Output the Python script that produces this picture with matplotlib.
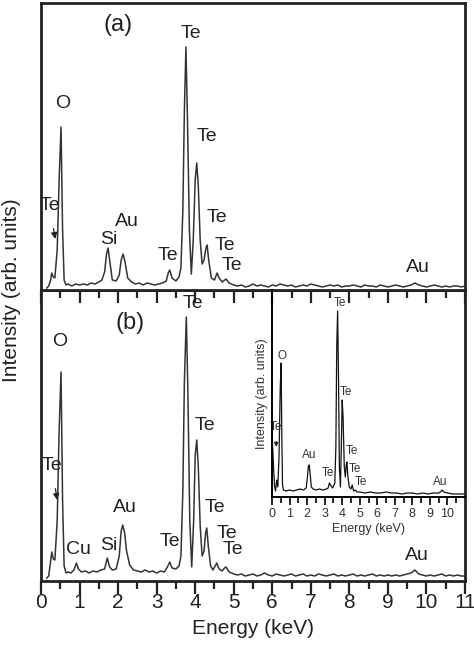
import matplotlib
matplotlib.use('Agg')
import matplotlib.pyplot as plt
import numpy as np

plt.rcParams['font.family'] = ['Liberation Sans', 'DejaVu Sans']

# ---- spectrum (a): energy (keV) / intensity (arb.) ----
E_a = [0.15, 0.2, 0.25, 0.28, 0.32, 0.36, 0.42, 0.47, 0.52, 0.56, 0.6, 0.65,
       0.7, 0.8, 0.9, 1.0, 1.1, 1.2, 1.3, 1.4, 1.5, 1.58, 1.65, 1.7, 1.74,
       1.78, 1.85, 1.95, 2.03, 2.08, 2.13, 2.18, 2.25, 2.35, 2.45, 2.55, 2.65,
       2.75, 2.85, 2.95, 3.05, 3.15, 3.25, 3.3, 3.34, 3.4, 3.5, 3.58, 3.63,
       3.68, 3.72, 3.76, 3.8, 3.85, 3.9, 3.95, 4.0, 4.04, 4.08, 4.13, 4.18,
       4.23, 4.28, 4.31, 4.35, 4.42, 4.5, 4.57, 4.62, 4.7, 4.8, 4.88, 5.0,
       5.1, 5.2, 5.3, 5.4, 5.5, 5.6, 5.7, 5.8, 5.9, 6.0, 6.1, 6.2, 6.3, 6.4,
       6.5, 6.6, 6.7, 6.8, 6.9, 7.0, 7.1, 7.2, 7.3, 7.4, 7.5, 7.6, 7.7, 7.8,
       7.9, 8.0, 8.1, 8.2, 8.3, 8.4, 8.5, 8.6, 8.7, 8.8, 8.9, 9.0, 9.1, 9.2,
       9.3, 9.4, 9.5, 9.6, 9.7, 9.8, 9.9, 10.0, 10.1, 10.2, 10.3, 10.4, 10.5,
       10.6, 10.7, 10.8, 10.9, 11.0]
I_a = [2, 4, 10, 17, 13, 12, 40, 110, 163, 60, 10, 5,
       6, 4, 6, 5, 6, 5, 7, 6, 8, 10, 18, 36, 42,
       30, 10, 9, 15, 30, 36, 28, 12, 8, 6, 7, 5,
       7, 6, 5, 6, 7, 9, 17, 20, 12, 9, 13, 22,
       80, 180, 243, 170, 60, 16, 50, 110, 127, 105, 50, 26,
       30, 42, 45, 30, 12, 10, 17, 12, 8, 11, 7, 5,
       4, 5, 3, 4, 6, 4, 5, 4, 3, 5, 4, 6, 5, 4,
       5, 3, 4, 5, 4, 6, 5, 4, 3, 4, 5, 4, 5, 3,
       4, 4, 5, 4, 3, 5, 4, 4, 3, 5, 4, 3, 4, 5,
       4, 3, 4, 5, 7, 5, 4, 3, 4, 5, 4, 3, 4,
       3, 4, 4, 3, 4]

# ---- spectrum (b) ----
E_b = [0.15, 0.2, 0.25, 0.28, 0.32, 0.36, 0.42, 0.47, 0.52, 0.56, 0.6, 0.65,
       0.7, 0.78, 0.85, 0.92, 0.97, 1.05, 1.15, 1.25, 1.35, 1.45, 1.55, 1.65,
       1.72, 1.78, 1.85, 1.95, 2.03, 2.08, 2.12, 2.17, 2.22, 2.3, 2.4, 2.5,
       2.6, 2.7, 2.8, 2.9, 3.0, 3.1, 3.2, 3.28, 3.34, 3.4, 3.5, 3.58, 3.63,
       3.68, 3.72, 3.77, 3.81, 3.86, 3.91, 3.96, 4.0, 4.04, 4.08, 4.13, 4.18,
       4.23, 4.27, 4.3, 4.34, 4.4, 4.46, 4.52, 4.56, 4.62, 4.7, 4.76, 4.8,
       4.88, 4.95, 5.0,
       5.1, 5.2, 5.3, 5.4, 5.5, 5.6, 5.7, 5.8, 5.9, 6.0, 6.1, 6.2, 6.3, 6.4,
       6.5, 6.6, 6.7, 6.8, 6.9, 7.0, 7.1, 7.2, 7.3, 7.4, 7.5, 7.6, 7.7, 7.8,
       7.9, 8.0, 8.1, 8.2, 8.3, 8.4, 8.5, 8.6, 8.7, 8.8, 8.9, 9.0, 9.1, 9.2,
       9.3, 9.4, 9.5, 9.6, 9.7, 9.8, 9.9, 10.0, 10.1, 10.2, 10.3, 10.4, 10.5,
       10.6, 10.7, 10.8, 10.9, 11.0]
I_b = [3, 5, 20, 29, 22, 21, 60, 150, 209, 80, 15, 8,
       9, 8, 11, 18, 12, 9, 10, 8, 10, 9, 11, 12,
       23, 14, 11, 12, 25, 50, 56, 48, 30, 16, 11, 10,
       9, 11, 9, 10, 8, 10, 9, 14, 19, 13, 12, 15, 25,
       90, 200, 264, 190, 60, 14, 60, 125, 141, 115, 55, 25,
       30, 48, 53, 35, 15, 11, 15, 18, 12, 10, 13, 14,
       9, 8, 7,
       6, 7, 5, 6, 7, 5, 6, 8, 6, 5, 7, 6, 5, 6,
       7, 5, 6, 7, 5, 6, 5, 7, 6, 5, 6, 7, 5, 6,
       5, 6, 7, 5, 6, 5, 6, 7, 5, 6, 5, 6, 5, 6,
       5, 6, 7, 8, 11, 7, 6, 5, 6, 5, 6, 7, 5,
       6, 5, 6, 5, 5]

# ---- inset spectrum ----
E_in = [0.0, 0.05, 0.1, 0.15, 0.2, 0.27, 0.33, 0.4, 0.47, 0.52, 0.56, 0.6,
        0.65, 0.8, 1.0, 1.2, 1.4, 1.6, 1.8, 1.95, 2.02, 2.07, 2.12, 2.17,
        2.24, 2.35, 2.5, 2.7, 2.9, 3.1, 3.2, 3.27, 3.33, 3.45, 3.58, 3.64,
        3.69, 3.74, 3.79, 3.84, 3.9, 3.95, 4.0, 4.05, 4.12, 4.18, 4.23, 4.27,
        4.32, 4.4, 4.5, 4.57, 4.65, 4.75, 4.85, 5.0, 5.3, 5.6, 5.9, 6.2, 6.5,
        6.8, 7.1, 7.4, 7.7, 8.0, 8.3, 8.6, 8.9, 9.2, 9.5, 9.6, 9.7, 9.8, 10.0,
        10.3, 10.6, 11.0]
I_in = [64, 45, 25, 10, 6, 17, 10, 40, 110, 134, 60, 12,
        7, 6, 7, 6, 7, 8, 7, 9, 20, 30, 32, 24,
        10, 8, 7, 8, 7, 8, 9, 14, 12, 9, 14, 50,
        150, 186, 120, 30, 10, 50, 97, 80, 30, 20, 32, 35,
        22, 10, 8, 12, 6, 7, 5, 5, 4, 5, 4, 4, 5,
        4, 4, 3, 4, 4, 3, 4, 3, 4, 4, 5, 7, 5, 4,
        3, 3, 3]

# peak labels: (text, energy, height)
labels_a = [('O', 0.55, 187), ('Te', 3.9, 257), ('Te', 4.3, 154),
            ('Te', 4.56, 72), ('Te', 4.77, 45), ('Te', 4.95, 25),
            ('Te', 3.3, 35), ('Si', 1.75, 51), ('Au', 2.23, 68),
            ('Au', 9.78, 23)]
labels_b = [('O', 0.49, 239), ('Te', 3.95, 278), ('Te', 4.25, 156),
            ('Te', 4.51, 73), ('Te', 4.82, 48), ('Te', 4.98, 31),
            ('Te', 3.35, 39), ('Au', 2.18, 73), ('Si', 1.75, 36),
            ('Cu', 0.97, 31), ('Au', 9.76, 26)]
labels_in = [('Te', 3.87, 194), ('O', 0.55, 141), ('Te', 4.22, 105),
             ('Au', 2.1, 42), ('Te', 4.56, 46), ('Te', 4.73, 28),
             ('Te', 3.2, 24), ('Te', 5.07, 15), ('Au', 9.6, 15)]

LINE = '#333333'
TXT = '#222222'

fig = plt.figure(figsize=(4.74, 6.45), dpi=100)
ax_b = fig.add_axes([41 / 474, 1 - 581 / 645, 424 / 474, 291 / 645])
ax_a = fig.add_axes([41 / 474, 1 - 290 / 645, 424 / 474, 287 / 645])
ax_in = fig.add_axes([272 / 474, 1 - 497 / 645, 193 / 474, 207 / 645])

for ax in (ax_a, ax_b):
    ax.set_xlim(0, 11)
    ax.set_yticks([])
    ax.set_xticks(np.arange(0, 12, 1))
    ax.set_xticks(np.arange(0.5, 11, 1), minor=True)
    ax.tick_params(axis='x', which='both', direction='out', width=1.6,
                   color='#222222')
    ax.tick_params(axis='x', which='major', length=9)
    ax.tick_params(axis='x', which='minor', length=6)
    for s in ax.spines.values():
        s.set_linewidth(2)
        s.set_color('#222222')

ax_a.set_ylim(0, 287)
ax_b.set_ylim(0, 291)
ax_a.tick_params(axis='x', labelbottom=False)
ax_b.patch.set_visible(False)

ax_a.plot(E_a, I_a, color=LINE, lw=1.1)
ax_b.plot(E_b, I_b, color=LINE, lw=1.1)

ax_b.tick_params(axis='x', which='major', labelsize=15, labelcolor=TXT, pad=0)
ax_b.set_xlabel('Energy (keV)', fontsize=15, color=TXT, labelpad=5)

for t, x, y in labels_a:
    ax_a.text(x, y, t, fontsize=14, color=TXT, ha='center', va='center')
for t, x, y in labels_b:
    ax_b.text(x, y, t, fontsize=14, color=TXT, ha='center', va='center')
ax_a.text(2.0, 265, '(a)', fontsize=17, color=TXT, ha='center', va='center')
ax_b.text(2.31, 258, '(b)', fontsize=17, color=TXT, ha='center', va='center')

# Te shoulder labels with arrows
ax_a.annotate('Te', xy=(0.37, 51), xytext=(0.22, 85), fontsize=14, color=TXT,
              ha='center', va='center',
              arrowprops=dict(arrowstyle='-|>', color='#222222', lw=0.9,
                              shrinkA=9, shrinkB=0, mutation_scale=9))
ax_b.annotate('Te', xy=(0.42, 81), xytext=(0.28, 116), fontsize=14, color=TXT,
              ha='center', va='center',
              arrowprops=dict(arrowstyle='-|>', color='#222222', lw=0.9,
                              shrinkA=9, shrinkB=0, mutation_scale=9))

fig.text(12 / 474, 1 - 290 / 645, 'Intensity (arb. units)', rotation=90,
         fontsize=15, color=TXT, ha='center', va='center')

# inset
ax_in.patch.set_visible(False)
ax_in.plot(E_in, I_in, color='#111111', lw=0.9)
ax_in.set_xlim(0, 11)
ax_in.set_ylim(0, 207)
ax_in.set_yticks([])
ax_in.spines['top'].set_visible(False)
ax_in.spines['right'].set_visible(False)
ax_in.spines['left'].set_linewidth(1.4)
ax_in.spines['bottom'].set_linewidth(1.4)
ax_in.set_xticks(np.arange(0, 11, 1))
ax_in.set_xticks(np.arange(0.5, 11, 1), minor=True)
ax_in.tick_params(axis='x', which='both', direction='out', width=1.2)
ax_in.tick_params(axis='x', which='major', length=6, labelsize=9,
                  labelcolor='#333333', pad=2)
ax_in.tick_params(axis='x', which='minor', length=4)
ax_in.set_xlabel('Energy (keV)', fontsize=9, color='#333333', labelpad=2)
ax_in.set_ylabel('Intensity (arb. units)', fontsize=9, color='#333333',
                 labelpad=3)
for t, x, y in labels_in:
    ax_in.text(x, y, t, fontsize=8.5, color='#333333', ha='center', va='center')
ax_in.annotate('Te', xy=(0.25, 50), xytext=(0.2, 70), fontsize=8.5,
               color='#333333', ha='center', va='center',
               arrowprops=dict(arrowstyle='-|>', color='#222222', lw=0.8,
                               shrinkA=4, shrinkB=0, mutation_scale=6))

fig.savefig('out.png', dpi=100)
